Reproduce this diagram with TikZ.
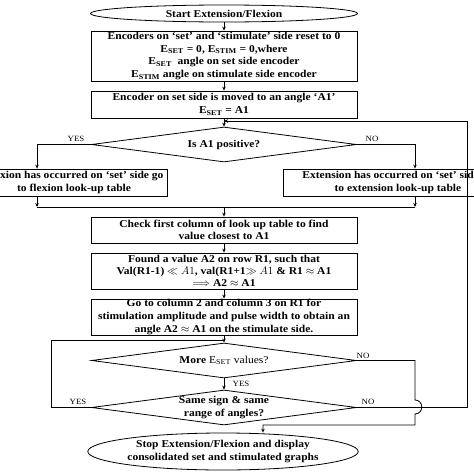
\documentclass[tikz,border=0pt]{standalone}
\usepackage{fontspec}
\setmainfont{Liberation Serif}[FakeStretch=1.1]
\usetikzlibrary{shapes.geometric,arrows.meta}

\newcommand{\Esub}[1]{E\textsubscript{#1}}

\begin{document}
\begin{tikzpicture}[x=1pt,y=-1pt, line width=0.8pt,
    every node/.style={font=\fontsize{10.5}{12.7}\selectfont\bfseries, align=center, inner sep=1pt},
    box/.style={draw, minimum width=266pt, inner ysep=0pt},
    dec/.style={draw, diamond, aspect=7.5, minimum width=265pt, minimum height=35pt, inner sep=0pt},
    term/.style={draw, ellipse, minimum width=267pt, inner sep=0pt},
    lbl/.style={font=\fontsize{8}{9}\selectfont},
    >={Stealth[length=4pt,width=3.5pt]}]
  \useasboundingbox (0,0) rectangle (474,474);

  \node[term, minimum height=17pt] (start) at (224,13.5) {Start Extension/Flexion};
  \node[box, minimum height=50pt] (enc) at (224,56)
    {Encoders on `set' and `stimulate' side reset to 0\\
     \Esub{SET} = 0, \Esub{STIM} = 0,where\\
     \Esub{SET}\ \ angle on set side encoder\\
     \Esub{STIM} angle on stimulate side encoder};
  \node[box, minimum height=27pt] (setA) at (224,104.5)
    {Encoder on set side is moved to an angle `A1'\\ \Esub{SET} = A1};
  \node[dec] (isA1) at (224,144.5) {Is\ A1 positive?};
  \node[box, minimum width=187pt, minimum height=27pt, anchor=east] (flex) at (168,182.5)
    {Flexion has occurred on `set' side go\\ to flexion look-up table};
  \node[box, minimum width=229pt, minimum height=27pt, anchor=west] (ext) at (283,182.5)
    {Extension has occurred on `set' side go\\ to extension look-up table};
  \node[box, minimum height=26pt] (check) at (224,230)
    {Check first column of look up table to find\\ value closest to A1};
  \node[box, minimum height=36pt] (found) at (224,271)
    {Found a value A2 on row R1, such that\\[-1pt]
     Val(R1-1) $\ll A1$, val(R1+1$\gg A1$ \& R1 $\approx$ A1\\[-1pt]
     $\Longrightarrow$ A2 $\approx$ A1};
  \node[box, minimum height=36pt] (go) at (224,317)
    {Go to column 2 and column 3 on R1 for\\
     stimulation amplitude and pulse width to obtain an\\
     angle A2 $\approx$ A1 on the stimulate side.};
  \node[dec] (more) at (224,360.5) {More \textmd{\Esub{SET} values?}};
  \node[dec] (same) at (224,407.5) {Same sign \& same\\ range of angles?};
  \node[term, minimum height=37pt] (stop) at (223,451.5)
    {Stop Extension/Flexion and display\\ consolidated set and stimulated graphs};

  % corners of the connectors
  \coordinate (lx) at (37,0);
  \coordinate (rx) at (415,0);
  \coordinate (mrg) at (224,207);
  \coordinate (rr) at (467,121);
  \coordinate (tp) at (224,121);
  \coordinate (ll) at (51,340);
  \coordinate (sx) at (263,425);

  \draw[->] (start) -- (enc);
  \draw[->] (enc) -- (setA);
  \draw[->] (setA) -- (isA1);
  \draw[->] (isA1.west) -| (lx |- flex.north);
  \draw[->] (isA1.east) -| (rx |- ext.north);
  \draw[->] (lx |- flex.south) -- (lx |- mrg);
  \draw[->] (rx |- ext.south) -- (rx |- mrg);
  \draw (lx |- mrg) -- (rx |- mrg);
  \draw[->] (mrg) -- (check);
  \draw[->] (check) -- (found);
  \draw[->] (found) -- (go);
  \draw[->] (go) -- (more);
  \draw[->] (more) -- (same);
  \draw (same.west) -| (ll) -- (ll -| more.north);
  \draw[->] (same.east) -| (rr) -- (tp);
  \draw[->] (more.east) -| (415,400) .. controls +(9,0) and +(9,0) .. (415,414)
    -- (rx |- sx) -- (sx) -- (sx |- stop.north);

  \node[lbl] (yesA) at (76,139) {YES};
  \node[lbl] (noA) at (372,139) {NO};
  \node[lbl] (noM) at (363,356) {NO};
  \node[lbl] (yesM) at (241,384) {YES};
  \node[lbl] (yesS) at (78,402) {YES};
  \node[lbl] (noS) at (368,402) {NO};
\end{tikzpicture}
\end{document}
